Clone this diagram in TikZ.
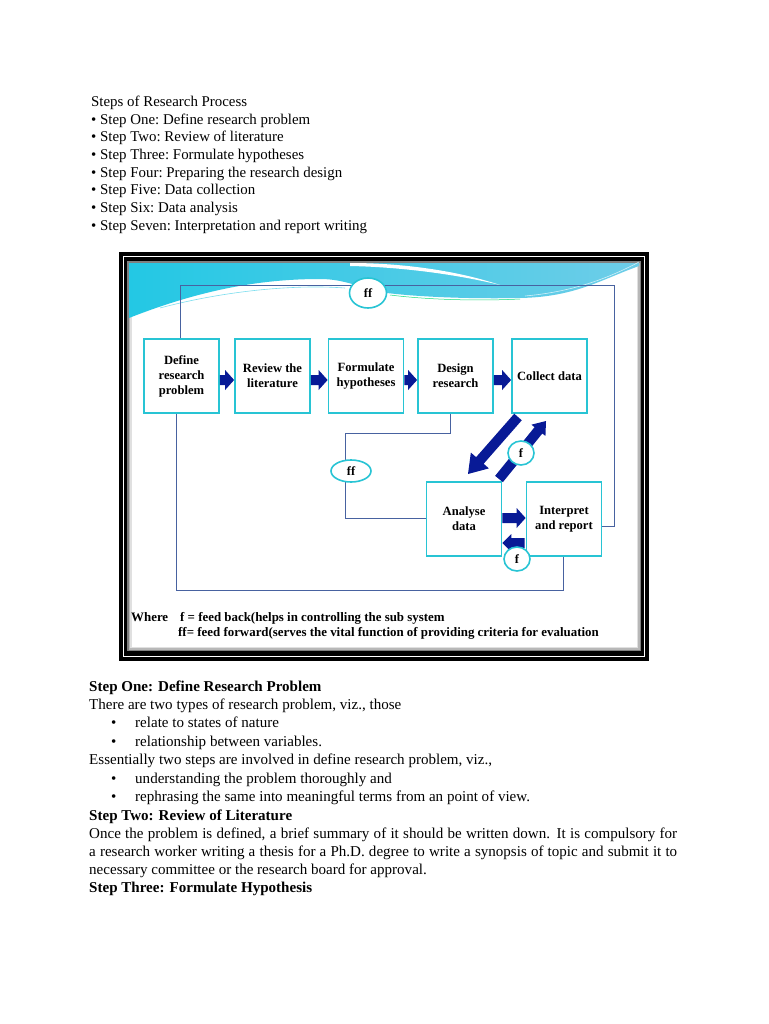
\documentclass[tikz,border=0pt]{standalone}
\usepackage{fontspec}
\setmainfont{Liberation Serif}
\usetikzlibrary{calc,shapes.geometric}
\definecolor{boxc}{RGB}{40,196,212}
\definecolor{navyc}{RGB}{8,26,150}
\definecolor{linec}{RGB}{72,98,160}
\definecolor{cyanA}{RGB}{35,200,228}
\definecolor{cyanB}{RGB}{45,145,200}
\definecolor{cyanC}{RGB}{110,205,232}
\newcommand{\blockarr}[5]{%
  \coordinate (baH) at ($(#2)!#5!(#1)$);
  \fill[navyc] ($(#1)!#3!90:(#2)$) -- ($(baH)!#3!90:(#2)$) -- ($(baH)!#4!90:(#2)$) -- (#2)
    -- ($(baH)!#4!-90:(#2)$) -- ($(baH)!#3!-90:(#2)$) -- ($(#1)!#3!-90:(#2)$) -- cycle;}
\begin{document}
\begin{tikzpicture}[x=1pt,y=-1pt,
  stepbox/.style={draw=boxc, line width=1.8pt, fill=white, minimum width=75pt,
    minimum height=74pt, inner sep=0pt, align=center, font=\bfseries\fontsize{12.6}{15}\selectfont},
  bubble/.style={ellipse, draw=boxc, line width=1.6pt, fill=white, inner sep=0pt,
    font=\bfseries\fontsize{12.5}{14}\selectfont},
  conn/.style={draw=linec, line width=0.9pt},
  toplist/.style={anchor=base west, inner sep=0pt, font=\fontsize{14.9}{17}\selectfont},
  body/.style={anchor=base west, inner sep=0pt, font=\fontsize{15.05}{18}\selectfont},
  bodyb/.style={body, font=\bfseries\fontsize{15.05}{18}\selectfont},
  legend/.style={anchor=base west, inner sep=0pt, font=\bfseries\fontsize{12.9}{15}\selectfont}]
\useasboundingbox (0,0) rectangle (768,1024);
\fill[white] (0,0) rectangle (768,1024);

% top list
\node[toplist] (t0) at (91,106.5) {Steps of Research Process};
\node[toplist] (t1) at (91,124.2) {\textbullet\ Step One:\ Define research problem};
\node[toplist] (t2) at (91,141.9) {\textbullet\ Step Two:\ Review of literature};
\node[toplist] (t3) at (91,159.6) {\textbullet\ Step Three:\ Formulate hypotheses};
\node[toplist] (t4) at (91,177.3) {\textbullet\ Step Four:\ Preparing the research design};
\node[toplist] (t5) at (91,195.0) {\textbullet\ Step Five:\ Data collection};
\node[toplist] (t6) at (91,212.7) {\textbullet\ Step Six:\ Data analysis};
\node[toplist] (t7) at (91,230.4) {\textbullet\ Step Seven:\ Interpretation and report writing};

% frame
\fill[black] (119,252) rectangle (649,661);
\draw[white, line width=0.8pt] (123.5,256.5) rectangle (644.5,656.5);
\fill[black!50] (127,261) rectangle (641,651);
\fill[black!28] (128.5,262.5) rectangle (639.5,649.5);
\fill[black!12] (130,264) rectangle (638,648);
\fill[white] (131.5,265.5) rectangle (636.5,646.5);

% decorative wave
\shade[left color=cyanA, middle color=cyanB, right color=cyanC]
  (129,263) -- (639,263) -- (639,266)
  .. controls (600,280) and (575,297) .. (520,298)
  .. controls (470,299) and (420,297) .. (387,293)
  .. controls (360,288) and (345,279) .. (320,279)
  .. controls (260,279) and (200,290) .. (129,318) -- cycle;
\fill[white] (350,263) .. controls (400,263) and (455,270) .. (500,285)
  .. controls (455,274) and (400,267) .. (350,266) -- cycle;
\draw[cyanA!60, line width=0.6pt] (160,308) .. controls (220,292) and (290,284) .. (345,288);
\draw[white!70!cyanC, line width=0.6pt] (525,296) .. controls (570,292) and (605,280) .. (639,262);
\draw[boxc!60!green, line width=0.5pt] (390,295) .. controls (430,300) and (480,301) .. (520,299);

% boxes
\node[stepbox] (b1) at (181.5,376) {Define\\research\\problem};
\node[stepbox] (b2) at (272.5,376) {Review the\\literature};
\node[stepbox] (b3) at (366,376) {Formulate\\hypotheses};
\node[stepbox] (b4) at (455.5,376) {Design\\research};
\node[stepbox] (b5) at (549.5,376) {Collect data};
\node[stepbox] (ad) at (464,519) {Analyse\\data};
\node[stepbox] (ir) at (564,519) {Interpret\\and report};

% connectors
\coordinate (tl) at (180,285);
\coordinate (tr) at (614,285);
\coordinate (rA) at (614,526);
\draw[conn] (b1.north -| tl) -- (tl) -- (tr) -- (rA) -- (ir.east |- rA);
\coordinate (bL) at (176,590);
\coordinate (bR) at (563,590);
\draw[conn] (b1.south -| bL) -- (bL) -- (bR) -- (ir.south -| bR);
\coordinate (m1) at (450,433);
\coordinate (m2) at (345,433);
\coordinate (m3) at (345,518);
\draw[conn] (b4.south -| m1) -- (m1) -- (m2) -- (m3) -- (ad.west |- m3);

% block arrows
\blockarr{$(b1.east)+(0,4)$}{$(b2.west)+(0,4)$}{5pt}{10pt}{9pt}
\blockarr{$(b2.east)+(0,4)$}{$(b3.west)+(0,4)$}{5pt}{10pt}{9pt}
\blockarr{$(b3.east)+(0,4)$}{$(b4.west)+(0,4)$}{5pt}{10pt}{9pt}
\blockarr{$(b4.east)+(0,4)$}{$(b5.west)+(0,4)$}{5pt}{10pt}{9pt}
\coordinate (d1s) at (518,417);
\coordinate (d1e) at (468,474);
\coordinate (d2s) at (499,479);
\coordinate (d2e) at (546,421);
\blockarr{d1s}{d1e}{5pt}{12pt}{18pt}
\blockarr{d2s}{d2e}{5pt}{9pt}{12pt}
\blockarr{$(ad.east)+(0,-1)$}{$(ir.west)+(0,-1)$}{5pt}{10pt}{9pt}
\blockarr{$(ir.west)+(-1,24)$}{$(ad.east)+(0,24)$}{5pt}{9pt}{9pt}

% bubbles
\node[bubble, minimum width=37pt, minimum height=30pt] (ff1) at (368,293) {ff};
\node[bubble, minimum width=40pt, minimum height=22pt] (ff2) at (351,471) {ff};
\node[bubble, minimum width=26pt, minimum height=24pt] (f1) at (521,453) {f};
\node[bubble, minimum width=26pt, minimum height=24pt] (f2) at (517,559) {f};

% legend
\node[legend] (lw) at (131,621) {Where};
\node[legend] (l1) at (180,621) {f = feed back(helps in controlling the sub system};
\node[legend] (l2) at (178,636) {ff= feed forward(serves the vital function of providing criteria for evaluation};

% body text
\node[bodyb] (s1) at (89,691.7) {Step One: Define Research Problem};
\node[body] (p1) at (89,709) {There are two types of research problem, viz., those};
\node[body] (u1) at (111,727) {\textbullet};
\node[body] (v1) at (135,727) {relate to states of nature};
\node[body] (u2) at (111,746.5) {\textbullet};
\node[body] (v2) at (135,746.5) {relationship between variables.};
\node[body] (p2) at (89,764.5) {Essentially two steps are involved in define research problem, viz.,};
\node[body] (u3) at (111,783) {\textbullet};
\node[body] (v3) at (135,783) {understanding the problem thoroughly and};
\node[body] (u4) at (111,801.5) {\textbullet};
\node[body] (v4) at (135,801.5) {rephrasing the same into meaningful terms from an point of view.};
\node[bodyb] (s2) at (89,820) {Step Two: Review of Literature};
\node[body] (p3) at (89,838) {\makebox[588pt][s]{Once the problem is defined, a brief summary of it should be written down. It is compulsory for}};
\node[body] (p4) at (89,856.3) {\makebox[588pt][s]{a research worker writing a thesis for a Ph.D. degree to write a synopsis of topic and submit it to}};
\node[body] (p5) at (89,874.5) {necessary committee or the research board for approval.};
\node[bodyb] (s3) at (89,892.7) {Step Three: Formulate Hypothesis};
\end{tikzpicture}
\end{document}
